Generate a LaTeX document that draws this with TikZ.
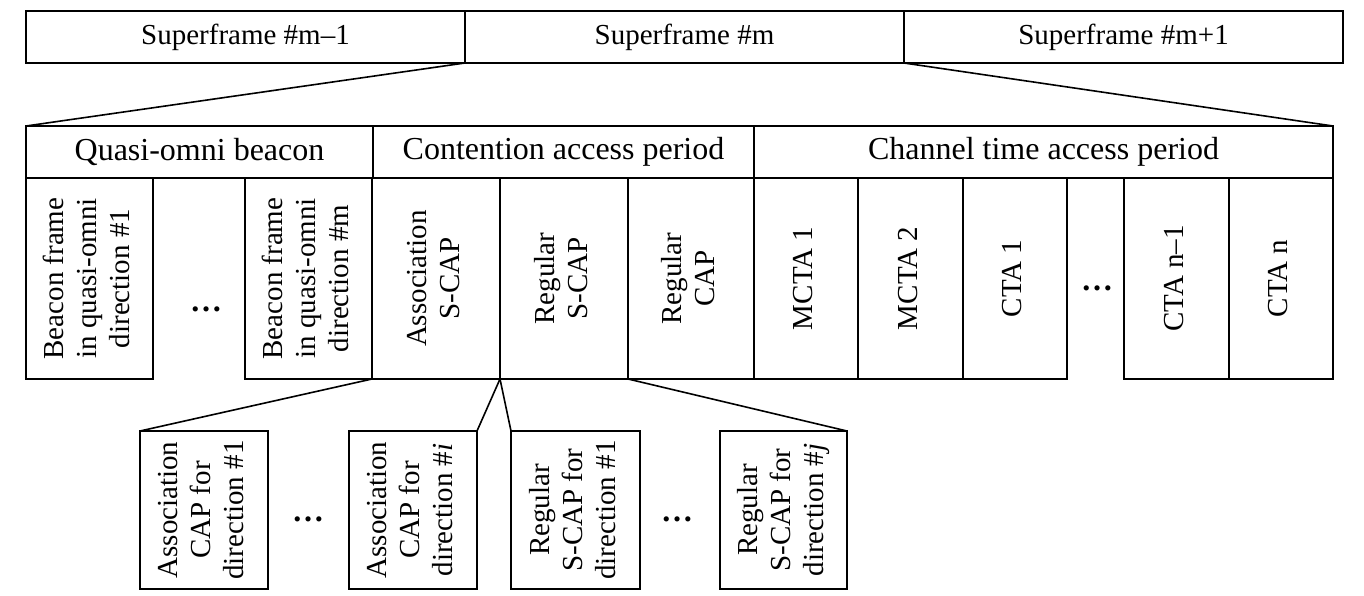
\documentclass[tikz,border=0pt]{standalone}
\usepackage{fontspec}
\setmainfont{Liberation Serif}
\usepackage{graphicx}
\usepackage{tikz}
\usetikzlibrary{positioning}
\newcommand{\vtext}[1]{\rotatebox{90}{\begin{tabular}{@{}c@{}}#1\end{tabular}}}

\begin{document}
\begin{tikzpicture}[x=1pt,y=-1pt,line width=1.6pt,font=\fontsize{29}{33}\selectfont,
  sf/.style={draw,minimum height=52pt,inner sep=0pt,outer sep=0pt},
  period/.style={sf,font=\fontsize{32}{36}\selectfont},
  cell/.style={draw,minimum height=201pt,inner sep=0pt,outer sep=0pt},
  sub/.style={draw,minimum height=158pt,inner sep=0pt,outer sep=0pt},
  gapdots/.style={anchor=base,inner sep=0pt,font=\fontsize{32}{36}\selectfont\bfseries}]
  \useasboundingbox (0,0) rectangle (1364,596);
  % superframes
  \node[sf,minimum width=439pt,anchor=north west] (sfa) at (26,11) {Superframe \#m–1};
  \node[sf,minimum width=439pt,right=0pt of sfa] (sfb) {Superframe \#m};
  \node[sf,minimum width=439pt,right=0pt of sfb] (sfc) {Superframe \#m+1};
  % periods of superframe #m
  \node[period,minimum width=347pt,anchor=north west] (qob) at (26,126) {Quasi-omni beacon};
  \node[period,minimum width=381pt,right=0pt of qob] (cap) {Contention access period};
  \node[period,minimum width=579pt,right=0pt of cap] (ctap) {Channel time access period};
  % slots
  \node[cell,minimum width=127pt,anchor=north west] (bf1) at (26,178) {\vtext{Beacon frame\\in quasi-omni\\direction \#1}};
  \node[cell,minimum width=127pt,right=92pt of bf1] (bfm) {\vtext{Beacon frame\\in quasi-omni\\direction \#m}};
  \node[cell,minimum width=128pt,right=0pt of bfm] (asc) {\vtext{Association\\S-CAP}};
  \node[cell,minimum width=128pt,right=0pt of asc] (rsc) {\vtext{Regular\\S-CAP}};
  \node[cell,minimum width=126pt,right=0pt of rsc] (rcap) {\vtext{Regular\\CAP}};
  \node[cell,minimum width=104pt,right=0pt of rcap] (mcta1) {\vtext{MCTA 1}};
  \node[cell,minimum width=105pt,right=0pt of mcta1] (mcta2) {\vtext{MCTA 2}};
  \node[cell,minimum width=104pt,right=0pt of mcta2] (cta1) {\vtext{CTA 1}};
  \node[cell,minimum width=105pt,right=57pt of cta1] (ctan1) {\vtext{CTA n–1}};
  \node[cell,minimum width=104pt,right=0pt of ctan1] (ctan) {\vtext{CTA n}};
  \node[gapdots] (dotsa) at (206,311) {…};
  \node[gapdots] (dotsb) at (1097,290) {…};
  % sub-periods of the S-CAPs
  \node[sub,minimum width=128pt,anchor=north west] (a1) at (140,431) {\vtext{Association\\CAP for\\direction \#1}};
  \node[sub,minimum width=128pt,right=81pt of a1] (ai) {\vtext{Association\\CAP for\\direction \#\textit{i}}};
  \node[sub,minimum width=129pt,right=34pt of ai] (r1) {\vtext{Regular\\S-CAP for\\direction \#1}};
  \node[sub,minimum width=127pt,right=80pt of r1] (rj) {\vtext{Regular\\S-CAP for\\direction \#\textit{j}}};
  \node[gapdots] (dotsc) at (308,521) {…};
  \node[gapdots] (dotsd) at (677,521) {…};
  % zoom lines
  \draw (sfb.south west) -- (qob.north west);
  \draw (sfb.south east) -- (ctap.north east);
  \draw (asc.south west) -- (a1.north west);
  \draw (asc.south east) -- (ai.north east);
  \draw (asc.south east) -- (r1.north west);
  \draw (rcap.south west) -- (rj.north east);
\end{tikzpicture}
\end{document}
